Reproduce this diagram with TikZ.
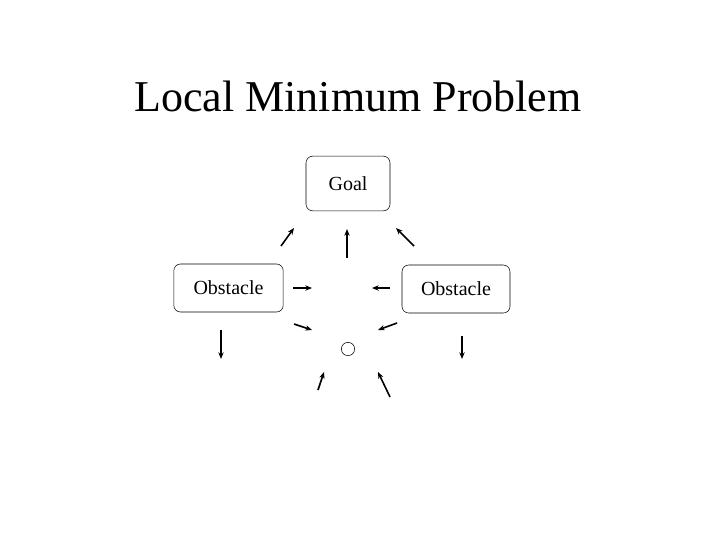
\documentclass[tikz,border=0pt]{standalone}
\usepackage{fontspec}
\setmainfont{Liberation Serif}
\usetikzlibrary{arrows.meta}
\begin{document}
\begin{tikzpicture}[x=0.75pt,y=-0.75pt,
 box/.style={draw,rounded corners=5pt,inner sep=0pt,font=\fontsize{15}{18}\selectfont},
 arr/.style={-{Stealth[length=5pt,width=4pt]},line width=1.2pt}]
\useasboundingbox (0,0) rectangle (720,540);
\node (title) at (358,96) {\fontsize{33}{40}\selectfont Local Minimum Problem};
\node[box,minimum width=63pt,minimum height=41pt] (goal) at (348,183.5) {Goal};
\node[box,minimum width=82pt,minimum height=36pt] (lo) at (228.5,288) {Obstacle};
\node[box,minimum width=81pt,minimum height=36pt] (ro) at (456,289) {Obstacle};
\node[draw,circle,minimum size=10pt,inner sep=0pt] (c) at (348,349) {};
\foreach \i/\a/\b/\c/\d in {1/281/246/294/228,2/347/258/347/229,3/414/246/396/228,4/293/288/312/288,5/390/288/372/288,6/294/324/312/330,7/397/323/378/330,8/221/330/221/359,9/462/336/462/359,10/318/390/324/372,11/390/397/378/372}{
 \coordinate (t\i) at (\a,\b); \coordinate (h\i) at (\c,\d);
 \draw[arr] (t\i) -- (h\i);}
\end{tikzpicture}
\end{document}
